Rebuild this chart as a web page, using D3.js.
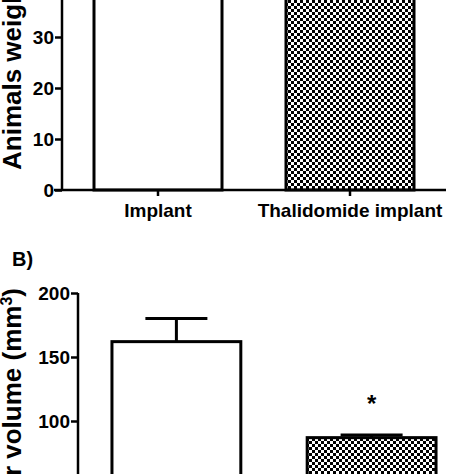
<!DOCTYPE html>
<html><head><meta charset="utf-8">
<script src="https://cdn.jsdelivr.net/npm/d3@7"></script>
<style>body{margin:0;background:#fff}text{font-family:"Liberation Sans",Arial,sans-serif;font-weight:bold}</style>
</head><body>
<svg id="c" width="474" height="474"></svg>
<script>
const groups = ['Implant', 'Thalidomide implant'];
const weightValues = [48, 48];
const weightTicks = [0, 10, 20, 30];
const tumorValues = [162, 87];
const tumorErrors = [18, 2];
const tumorTicks = [100, 150, 200];

const svg = d3.select('#c');
const defs = svg.append('defs');
const pat = defs.append('pattern').attr('id', 'chk').attr('patternUnits', 'userSpaceOnUse')
  .attr('width', 6).attr('height', 6);
pat.append('rect').attr('width', 6).attr('height', 6).attr('fill', '#fff');
pat.append('rect').attr('width', 3).attr('height', 3).attr('fill', '#000');
pat.append('rect').attr('x', 3).attr('y', 3).attr('width', 3).attr('height', 3).attr('fill', '#000');
const fills = ['#fff', 'url(#chk)'];

function styleAxis(g) {
  g.selectAll('path,line').attr('stroke', '#000').attr('stroke-width', 2.5);
  g.selectAll('text').attr('font-size', 19).attr('fill', '#000');
}

// Panel A
const xA = d3.scaleBand().domain(groups).range([62, 446]).paddingInner(1 / 3).paddingOuter(1 / 6);
const yA = d3.scaleLinear().domain([0, 10]).range([190, 139]);
svg.append('g').selectAll('rect').data(groups).join('rect')
  .attr('x', d => xA(d)).attr('width', xA.bandwidth())
  .attr('y', (d, i) => yA(weightValues[i])).attr('height', (d, i) => yA(0) - yA(weightValues[i]))
  .attr('fill', (d, i) => fills[i]).attr('stroke', '#000').attr('stroke-width', 3);
svg.append('g').attr('transform', 'translate(62,0)')
  .call(d3.axisLeft(yA).tickValues(weightTicks).tickSize(7).tickPadding(1))
  .call(g => g.select('.domain').attr('d', 'M0,-10V190'))
  .call(styleAxis);
svg.append('g').attr('transform', 'translate(0,190)')
  .call(d3.axisBottom(xA).tickSize(6).tickPadding(8))
  .call(g => g.select('.domain').attr('d', 'M54,0H446'))
  .call(styleAxis)
  .call(g => g.selectAll('text').attr('font-size', 19));
svg.append('text').attr('transform', 'translate(21,170) rotate(-90)')
  .attr('font-size', 26).text('Animals weight (g)');

// Panel B
svg.append('text').attr('x', 12).attr('y', 266).attr('font-size', 20).text('B)');
const xB = d3.scaleBand().domain(groups).range([78, 470]).paddingInner(0.34).paddingOuter(0.174);
const yB = d3.scaleLinear().domain([150, 200]).range([357, 293]);
const bars = svg.append('g');
bars.selectAll('rect').data(groups).join('rect')
  .attr('x', d => xB(d)).attr('width', xB.bandwidth())
  .attr('y', (d, i) => yB(tumorValues[i])).attr('height', (d, i) => 600 - yB(tumorValues[i]))
  .attr('fill', (d, i) => fills[i]).attr('stroke', '#000').attr('stroke-width', 3);
groups.forEach((d, i) => {
  const cx = xB(d) + xB.bandwidth() / 2, top = yB(tumorValues[i] + tumorErrors[i]);
  bars.append('line').attr('x1', cx).attr('x2', cx).attr('y1', yB(tumorValues[i])).attr('y2', top)
    .attr('stroke', '#000').attr('stroke-width', 3);
  bars.append('line').attr('x1', cx - 31).attr('x2', cx + 31).attr('y1', top).attr('y2', top)
    .attr('stroke', '#000').attr('stroke-width', 3);
});
svg.append('text').attr('x', xB(groups[1]) + xB.bandwidth() / 2).attr('y', 412)
  .attr('text-anchor', 'middle').attr('font-size', 24).attr('font-weight', 'normal').text('*');
svg.append('g').attr('transform', 'translate(78,0)')
  .call(d3.axisLeft(yB).tickValues(tumorTicks).tickSize(7).tickPadding(1))
  .call(g => g.select('.domain').attr('d', 'M0,293V480'))
  .call(styleAxis);
const lab = svg.append('text').attr('transform', 'translate(21,288) rotate(-90)')
  .attr('text-anchor', 'end').attr('font-size', 26);
lab.append('tspan').text('Tumor volume  (mm');
lab.append('tspan').attr('dy', -9).attr('font-size', 16).text('3');
lab.append('tspan').attr('dy', 9).text(')');
</script>
</body></html>
